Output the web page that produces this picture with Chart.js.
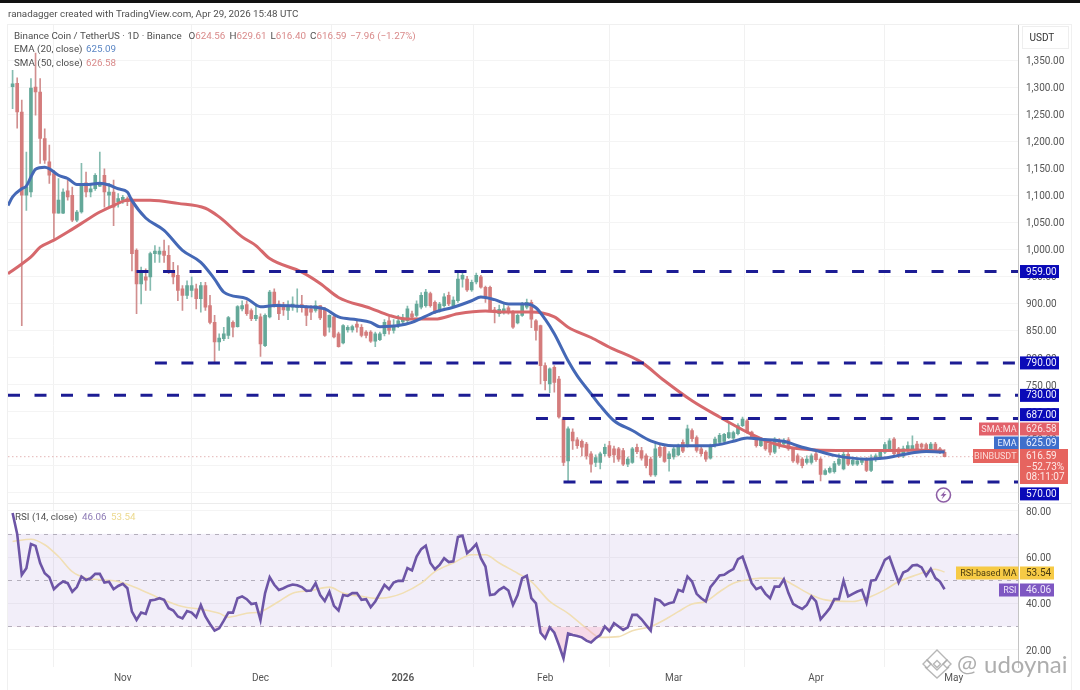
<!DOCTYPE html>
<html><head><meta charset="utf-8">
<style>html,body{margin:0;padding:0;background:#fff}canvas{display:block}</style>
<script src="https://cdn.jsdelivr.net/npm/chart.js@4"></script>
</head><body>
<canvas id="c" width="1080" height="690" style="width:1080px;height:690px"></canvas>
<script>
const priceTicks=[1350,1300,1250,1200,1150,1100,1050,1000,950,900,850,800,750,700,650,600,550];
const rsiTicks=[80,60,40,20];
const monthTicks=['Nov 1','Dec 1','Jan 1','Feb 1','Mar 1','Apr 1','May 1'];
const monthNames=['Nov','Dec','2026','Feb','Mar','Apr','May'];
const levels=[959,790,730,687,570];
const levelStarts=['Nov 4','Nov 8','Oct 7','Jan 30','Feb 5'];
const opens=[1301,1307,1254,1100,1106,1300,1291,1205,1162,1140,
1067,1067,1108,1100,1054,1069,1123,1106,1112,1117,
1137,1100,1106,1088,1091,1094,1090,998,936,949,
949,992,991,997,989,958,952,927,915,924,
927,909,933,896,865,829,835,841,865,857,
890,898,887,872,875,822,875,921,899,896,
887,893,892,898,894,890,887,896,890,856,
875,844,827,851,851,862,856,847,847,830,
833,844,868,850,862,866,868,881,878,893,
896,918,902,887,896,915,896,905,945,945,
925,940,949,930,930,888,881,884,892,884,
864,878,893,902,868,859,785,751,782,760,
686,609,662,648,645,640,622,606,606,622,
637,631,631,628,603,606,634,628,618,612,
583,634,634,613,616,620,643,637,665,652,
631,625,614,637,643,645,652,651,659,674,
683,662,652,637,646,640,625,646,640,648,
631,618,612,606,606,622,612,584,588,589,
603,594,621,603,603,606,612,591,612,615,
625,631,649,631,618,628,631,640,640,639,
628,640,631,624.56];
const highs=[1331,1317,1276,1180,1316,1363,1316,1223,1193,1146,
1131,1112,1128,1115,1072,1159,1143,1119,1140,1180,
1149,1122,1128,1103,1100,1097,1095,1001,967,964,
995,1007,1004,1017,1007,976,970,933,942,949,
936,939,939,915,878,844,856,876,868,896,
905,905,890,899,881,881,924,927,905,902,
905,912,927,915,896,896,905,896,893,879,
878,847,861,859,860,870,861,850,850,847,
847,870,875,870,878,880,895,886,905,920,
926,921,905,902,918,921,912,957,958,950,
943,956,952,932,932,893,897,900,895,887,
881,902,908,906,870,860,790,781,785,765,
690,672,668,652,648,643,626,620,625,640,
645,636,634,632,616,634,640,634,622,616,
643,638,638,626,636,640,648,675,668,655,
634,628,640,653,660,660,680,664,678,690,
686,664,655,652,650,645,652,650,650,652,
634,622,615,618,622,625,615,594,598,608,
622,625,624,613,614,614,615,620,622,630,
643,650,652,634,636,644,655,645,642,642,
643,643,634,629.61];
const lows=[1260,1224,859,1072,1097,1248,1159,1159,1122,1020,
1067,1066,1091,1051,1051,1067,1097,1097,1109,1116,
1078,1078,1044,1078,1085,1081,960,881,899,924,
924,976,976,976,955,936,905,887,909,912,
890,884,887,862,790,813,831,835,838,856,
886,878,868,868,802,820,873,893,870,878,
870,887,884,884,859,870,884,870,839,847,
836,819,825,847,847,847,838,836,828,820,
831,840,843,845,855,860,865,871,875,890,
893,893,881,884,893,896,894,902,930,922,
922,936,928,902,885,864,876,880,880,854,
862,876,890,855,832,751,740,735,736,688,
600,572,630,632,618,612,588,598,594,618,
615,606,608,600,598,604,622,610,596,580,
580,615,606,590,612,618,624,634,645,625,
618,608,612,634,640,642,650,648,657,672,
660,650,634,635,628,620,622,632,635,628,
606,603,596,603,603,608,572,583,586,586,
600,592,600,600,600,602,589,589,608,612,
622,628,620,615,615,625,628,628,630,628,
626,626,622,616.40];
const closes=[1306,1254,1100,1115,1298,1291,1205,1165,1137,1067,
1091,1106,1097,1054,1069,1118,1106,1112,1137,1122,
1106,1106,1078,1094,1096,1088,992,936,958,943,
992,997,997,989,958,949,924,915,933,933,
909,933,893,865,829,836,844,874,856,894,
896,881,872,878,825,878,921,896,881,888,
896,899,896,892,878,884,896,873,841,878,
838,820,859,856,857,856,841,841,830,844,
844,865,850,859,868,871,890,875,899,915,
921,896,884,899,912,899,906,945,952,925,
939,952,930,912,888,884,889,890,884,856,
878,899,902,871,850,785,757,779,754,690,
606,668,646,637,634,618,603,615,622,634,
618,620,612,603,612,631,626,614,600,583,
631,618,608,622,631,634,627,668,650,628,
622,612,637,649,656,658,661,661,674,686,
662,652,637,648,631,625,649,637,646,631,
609,606,600,612,618,611,584,591,595,604,
612,621,603,610,609,610,591,612,618,625,
639,646,622,618,631,637,637,631,634,631,
640,629,625,616.59];
const rsiValues=[79,70,52.3,55.2,65.6,64.8,57.4,53,51.3,46.1,
48,49.4,48.7,45,47,51.6,50.1,50.8,52.7,52.7,
49,49.3,46.1,47.5,48.4,46.5,36.4,32.8,36,35.4,
41.2,41.5,42.2,41.5,37.9,36.9,34.3,33.5,36.7,36,
34,39.2,34.3,31.1,28.2,29.2,32.5,36,36,42.2,
43,41.8,39.7,40,32.8,44.4,51.3,48,45.8,46.5,
47.5,48.1,47.8,47,45.4,45.5,48.7,43.6,41,45,
38.9,36.9,43.6,43.2,44.4,44.4,41.5,41.8,38.3,40.8,
44.4,48,46.1,49,49.7,49.7,55.2,54.2,60.2,63.4,
64.9,57.4,54.7,56.6,59.5,57.8,58.1,68.6,69.2,61.7,
63.4,65.6,59.5,55.9,43.6,43.9,45.8,47,45.5,39.3,
43.6,50.9,51.9,42.2,40,27.3,24.9,29.6,27.3,22,
16.2,27,26.3,25.9,25.3,23.9,23.1,24.9,26.3,30,
28,31.4,30,28.5,29.6,35,35,33.1,30.6,28.2,
41.9,41.2,39.2,40,40.5,45.8,45.1,51.6,49.4,44.1,
42.2,40.8,47,49.4,52,52.3,53.7,54.8,59.1,60.2,
54.5,48.7,46.1,47,44.1,42.2,47.2,47.2,50.4,44.4,
39.8,38.6,37.6,39.3,43,40.8,33.1,35.4,37.9,41.8,
41.8,49.8,43,44.1,45.1,45.8,40.3,49.8,50.1,54.2,
58.8,60,54.5,49,53.3,54.2,56.3,56.6,55.5,51.9,
54.9,50.9,49.4,46.06];
const emaDays=[0,1,3,4,5,6,8,9,11,13,15,17,20,22,24,26,27,30,34,38,42,45,47,52,55,58,65,69,72,76,79,81,85,88,93,97,101,103,106,109,113,115,117,119,122,124,127,129,132,136,140,145,149,153,158,161,164,169,173,176,180,187,191,194,198,200,204];
const emaValues=[1081,1097,1112,1117,1134,1148,1152,1149,1137,1131,1120,1120,1122,1119,1112,1106,1090,1058,1035,998,976,945,921,909,894,896,894,890,875,870,865,857,859,865,884,893,905,912,907,899,899,892,871,844,794,766,733,711,683,665,646,637,637,637,645,651,649,645,634,628,619,612,614,619,625,626,625.09];
const smaDays=[0,3,5,7,10,13,16,20,23,26,31,37,43,46,47,51,54,57,64,68,72,79,83,87,90,93,98,104,108,114,119,122,127,131,138,143,149,155,161,166,170,176,187,193,198,204];
const smaValues=[955,973,986,1004,1017,1032,1048,1069,1081,1091,1091,1085,1076,1060,1053,1023,1007,983,958,937,911,891,878,871,871,871,881,886,884,884,875,856,837,819,791,757,720,690,662,643,634,629,628,628,629,626.58];
const rsiMaDays=[1,5,8,11,14,17,21,24,29,33,38,42,46,48,52,55,59,62,66,70,73,77,80,83,86,90,93,97,101,104,107,111,114,118,122,126,129,133,136,140,144,146,149,152,155,158,161,164,168,171,175,178,184,187,191,194,198,202,204];
const rsiMaValues=[66.7,67.7,65.3,60.2,53.7,50.9,50.1,49.4,45.8,42.2,38.6,37.4,35.7,34,35.7,36.4,40.8,44.4,45.5,47,44.4,43,42.2,42.6,44.4,48.7,53.7,57.4,61,61,57.4,53,49.4,40.8,35.7,29.2,25.3,25.6,28.2,30,34,36.4,39.7,40.8,45,48.7,50.1,50.9,50.9,48,43.6,41.5,40.8,42.2,45.8,49.4,52.3,54.7,53.54];
const lastPrice=616.59;

const monthLabel=['Jan','Feb','Mar','Apr','May','Jun','Jul','Aug','Sep','Oct','Nov','Dec'];
const dayLabels=[];
for(let d=new Date(Date.UTC(2025,9,7));d<=new Date(Date.UTC(2026,4,15));d=new Date(d.getTime()+864e5)){
  dayLabels.push(monthLabel[d.getUTCMonth()]+' '+d.getUTCDate());
}
const UP='#64a899',DOWN='#d47c7c',UPW='#86bcb0',DOWNW='#d18f8f';
const isUp=opens.map((o,i)=>closes[i]>=o);
const pts=(days,vals)=>days.map((d,i)=>({x:dayLabels[d],y:vals[i]}));
const lead=a=>[null].concat(a);
const FONT='Roboto, "Liberation Sans", sans-serif';

const overlay={
 id:'overlay',
 beforeDatasetsDraw(ch){
  const c=ch.ctx,a=ch.chartArea,r=ch.scales.yRsi;
  c.save();
  c.fillStyle='rgba(126,87,194,0.10)';
  c.fillRect(a.left,r.getPixelForValue(70),a.right-a.left,r.getPixelForValue(30)-r.getPixelForValue(70));
  c.strokeStyle='#b4afbc';c.lineWidth=1.2;c.setLineDash([4,5]);
  [70,50,30].forEach(v=>{const y=Math.round(r.getPixelForValue(v))+.5;c.beginPath();c.moveTo(a.left,y);c.lineTo(a.right,y);c.stroke();});
  c.setLineDash([]);
  c.strokeStyle='#ececec';c.lineWidth=1;
  c.beginPath();c.moveTo(8,503.5);c.lineTo(1072,503.5);c.stroke();
  c.restore();
 },
 afterDraw(ch){
  const c=ch.ctx,p=ch.scales.y;
  c.save();
  c.fillStyle='#111';c.fillRect(0,0,1080,3);
  c.strokeStyle='#f0f0f0';c.lineWidth=1;c.strokeRect(7.5,24.5,1064,666);
  const text=(t,x,y,col,font,al)=>{c.fillStyle=col;c.font=font||('9.8px '+FONT);c.textAlign=al||'left';c.textBaseline='middle';c.fillText(t,x,y);return x+c.measureText(t).width;};
  const dark='#4f4f4f',redv='#d98a8a';
  text('ranadagger created with TradingView.com, Apr 29, 2026 15:48 UTC',8,15,dark);
  const hf='9.8px '+FONT;
  text('Binance Coin / TetherUS · 1D · Binance',14,37,dark,hf);
  [['O','624.56',188.5],['H','629.61',229.5],['L','616.40',270.5],['C','616.59',310]].forEach(q=>{const nx=text(q[0],q[2],37,dark,hf);text(q[1],nx,37,redv,hf);});
  text('−7.96 (−1.27%)',350,37,redv,hf);
  text('EMA (20, close)',14,50,dark);text('625.09',86,50,'#5b86c4');
  text('SMA (50, close)',14,64,dark);text('626.58',86,64,'#d98a8a');
  text('RSI (14, close)',15,518,dark);text('46.06',82,518,'#8d7ab5');text('53.54',111,518,'#ecd98e');
  c.strokeStyle='#eeeeee';c.strokeRect(1022.5,26.5,46,22);
  text('USDT',1029.5,38,'#333','10px '+FONT);
  const nf='10px '+FONT, sf='9px '+FONT;
  const adj=[0,0,0,-4,12];
  levels.forEach((v,i)=>{const y=p.getPixelForValue(v)+adj[i];c.fillStyle='#0a0ab8';c.fillRect(1020,y-6.5,39,13);text(v.toFixed(2),1026,y+.5,'#f2f2ff',nf);});
  const tag=(lbl,val,lx,y,bg,fg,rw)=>{c.fillStyle=bg;c.fillRect(lx,y-6.5,1018.5-lx,13);c.fillRect(1020,y-6.5,rw||39,13);text(lbl,1016.5,y+.5,fg,sf,'right');text(val,1026,y+.5,fg,nf);};
  tag('SMA:MA','626.58',979,429,'#e2616a','#fbe3e3');
  tag('EMA','625.09',994,443,'#3f6fcb','#e9f0ff');
  c.fillStyle='#e6645f';c.fillRect(973,449,45.5,14);c.fillRect(1020,449,48,35);
  text('BINBUSDT',1016.5,456.5,'#fbd9d6',sf,'right');
  text(lastPrice.toFixed(2),1026,456.5,'#fde7e5',nf);
  text('−52.73%',1026,467,'#fde7e5',nf);
  text('08:11:07',1026,477.5,'#fde7e5',nf);
  tag('RSI-based MA','53.54',956,573,'#f6ca45','#4a3b10',34);
  tag('RSI','46.06',999,590,'#7e57c2','#eee6fb',34);
  c.strokeStyle='#8e5fa6';c.lineWidth=1.6;c.beginPath();c.arc(943.5,495,7,0,Math.PI*2);c.stroke();
  c.fillStyle='#8e5fa6';c.beginPath();c.moveTo(945.5,490.5);c.lineTo(940.5,495.8);c.lineTo(943.2,495.8);c.lineTo(941.5,499.5);c.lineTo(946.5,494);c.lineTo(943.8,494);c.closePath();c.fill();
  c.strokeStyle='rgba(170,170,170,.85)';c.lineWidth=1.4;
  [[937,660,10],[927,664,4],[947,664,4],[937,664,3.5]].forEach(d=>{c.beginPath();c.moveTo(d[0],d[1]-d[2]);c.lineTo(d[0]+d[2],d[1]);c.lineTo(d[0],d[1]+d[2]);c.lineTo(d[0]-d[2],d[1]);c.closePath();c.stroke();});
  c.beginPath();c.moveTo(925,667);c.lineTo(937,678);c.lineTo(949,667);c.stroke();
  text('@',957,664,'rgba(165,165,165,.9)','24px Lato, sans-serif');
  text('udoynai',984,665,'rgba(165,165,165,.9)','24px Lato, sans-serif');
  c.restore();
 }
};

const levelSets=levels.map((v,i)=>({type:'line',label:'L'+v,yAxisID:'y',order:1,
  data:[{x:levelStarts[i],y:v},{x:dayLabels[dayLabels.length-1],y:v}],
  borderColor:'#1c1c94',borderWidth:3,borderDash:[12,14.5],pointRadius:0,borderCapStyle:'butt'}));

new Chart(document.getElementById('c'),{
 type:'bar',
 data:{labels:dayLabels,datasets:[
  {label:'wick',yAxisID:'y',grouped:false,order:6,barThickness:1,
   data:lead(lows.map((l,i)=>[l,highs[i]])),backgroundColor:lead(isUp.map(u=>u?UPW:DOWNW))},
  {label:'body',yAxisID:'y',grouped:false,order:5,barThickness:3,minBarLength:1.5,
   data:lead(opens.map((o,i)=>[o,closes[i]])),backgroundColor:lead(isUp.map(u=>u?UP:DOWN))},
  {type:'line',label:'Last',yAxisID:'y',order:4,
   data:[{x:dayLabels[0],y:lastPrice},{x:dayLabels[dayLabels.length-1],y:lastPrice}],
   borderColor:'rgba(205,120,120,.55)',borderWidth:1,borderDash:[1.5,2.5],pointRadius:0},
  {type:'line',label:'SMA 50',yAxisID:'y',order:3,data:pts(smaDays,smaValues),borderColor:'#d6686c',borderWidth:3,pointRadius:0,cubicInterpolationMode:'monotone'},
  {type:'line',label:'EMA 20',yAxisID:'y',order:2,data:pts(emaDays,emaValues),borderColor:'#4468b6',borderWidth:3,pointRadius:0,cubicInterpolationMode:'monotone'},
  ...levelSets,
  {type:'line',label:'RSI MA',yAxisID:'yRsi',order:3,data:pts(rsiMaDays,rsiMaValues),borderColor:'#f1dfb4',borderWidth:1.6,pointRadius:0,cubicInterpolationMode:'monotone'},
  {type:'line',label:'RSI',yAxisID:'yRsi',order:2,data:lead(rsiValues),borderColor:'#6d55a6',borderWidth:2.6,pointRadius:0,tension:0,
   fill:{target:{value:30},below:'rgba(235,170,205,.45)',above:'rgba(0,0,0,0)'}}
 ]},
 plugins:[overlay],
 options:{
  responsive:false,animation:false,devicePixelRatio:1,events:[],
  layout:{padding:{left:8,top:24,right:0,bottom:0}},
  plugins:{legend:{display:false},tooltip:{enabled:false},title:{display:false}},
  scales:{
   x:{type:'category',offset:false,
    afterBuildTicks(s){s.ticks=monthTicks.map(m=>({value:dayLabels.indexOf(m)}));},
    afterFit(s){s.height=23;},
    grid:{color:'#f1f1f1',drawTicks:false},border:{display:false},
    ticks:{autoSkip:false,maxRotation:0,minRotation:0,padding:5,color:'#555',
     font:ctx=>({family:FONT,size:10,weight:ctx.tick&&ctx.tick.label==='2026'?'600':'400'}),
     callback(v){return monthNames[monthTicks.indexOf(dayLabels[v])];}}
   },
   y:{position:'right',stack:'pane',stackWeight:479,weight:1,min:529.6,max:1416.7,
    afterBuildTicks(s){s.ticks=priceTicks.map(v=>({value:v}));},
    afterFit(s){s.width=62;},
    grid:{color:'#f4f4f4',drawTicks:false},border:{color:'#c4c4c4'},
    ticks:{padding:8,labelOffset:1.5,color:'#555',font:{family:FONT,size:10},autoSkip:false,
     callback:v=>v.toLocaleString('en-US',{minimumFractionDigits:2,maximumFractionDigits:2})}
   },
   yRsi:{position:'right',stack:'pane',stackWeight:163,weight:2,min:12.5,max:83,
    afterBuildTicks(s){s.ticks=rsiTicks.map(v=>({value:v}));},
    afterFit(s){s.width=62;},
    grid:{color:'#f4f4f4',drawTicks:false},border:{color:'#c4c4c4'},
    ticks:{padding:8,labelOffset:1.5,color:'#555',font:{family:FONT,size:10},autoSkip:false,
     callback:v=>v.toFixed(2)}
   }
  }
 }
});
</script>
</body></html>
